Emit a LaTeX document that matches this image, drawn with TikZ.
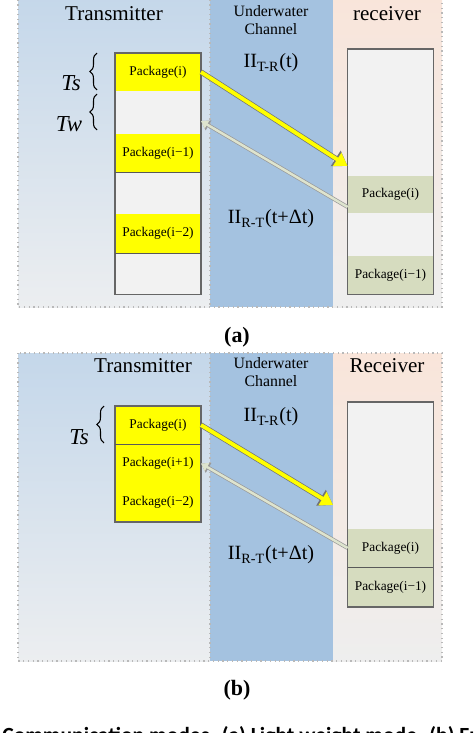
\documentclass[tikz,border=0pt]{standalone}
\usepackage{fontspec}
\setmainfont{Liberation Serif}
\newfontfamily\capfont{Carlito}
\usetikzlibrary{arrows.meta, positioning, fit, calc, decorations.pathreplacing}
\definecolor{txblue}{RGB}{196,215,234}
\definecolor{txgray}{RGB}{236,238,240}
\definecolor{chblue}{RGB}{164,194,224}
\definecolor{rxpeach}{RGB}{249,229,218}
\definecolor{rxgray}{RGB}{238,238,238}
\definecolor{slotgray}{RGB}{242,242,242}
\definecolor{pkggreen}{RGB}{214,220,191}
\definecolor{pkgyellow}{RGB}{255,255,0}
\definecolor{backgreen}{RGB}{222,228,206}

\begin{document}
\begin{tikzpicture}[x=0.02cm, y=-0.02cm,
    slot/.style={fill=slotgray, minimum width=1.72cm, inner sep=0pt, outer sep=0pt},
    pkg/.style={slot, fill=pkgyellow, font=\fontsize{7.6}{9}\selectfont},
    rpkg/.style={slot, fill=pkggreen, font=\fontsize{7.6}{9}\selectfont},
    colbox/.style={draw=gray!80!black, line width=0.6pt, inner sep=0pt},
    title/.style={font=\fontsize{12}{14}\selectfont},
    chan/.style={font=\fontsize{9}{10}\selectfont, align=center},
    flow/.style={font=\fontsize{11.5}{12}\selectfont},
    lbl/.style={font=\fontsize{13}{14}\selectfont\itshape},
    sub/.style={font=\fontsize{12.5}{14}\selectfont\bfseries},
    sep/.style={draw=gray!70!black, line width=0.5pt},
    border/.style={draw=gray!55, dotted, line width=0.7pt},
    brc/.style={decorate, decoration={brace, amplitude=4pt}, line width=0.6pt},
    fwd/.style={draw=pkgyellow, line width=2.2pt, -{Triangle[length=7pt,width=8.5pt]},
                preaction={draw=black!55, line width=3pt, -{Triangle[length=8pt,width=10pt]}}},
    bwd/.style={draw=backgreen, line width=1.4pt, -{Triangle[length=4pt,width=5pt]},
                preaction={draw=gray!80, line width=2.2pt, -{Triangle[length=5pt,width=6.2pt]}}}]

  \path[use as bounding box, clip] (0,0) rectangle (474,733);

  % ---- panel (a)
  \shade[top color=txblue, bottom color=txgray] (18,-5) rectangle (210,307);
  \fill[chblue] (210,-5) rectangle (333,307);
  \shade[top color=rxpeach, bottom color=rxgray] (333,-5) rectangle (442,307);
  \draw[border] (18,-5) rectangle (442,307) (210,-5) -- (210,307);

  \node[title] (txa) at (114,14) {Transmitter};
  \node[chan] (cha) at (271,20) {Underwater\\Channel};
  \node[title] (rxa) at (387,14) {receiver};

  \node[pkg, minimum height=0.76cm] (ta1) at (158,72) {Package(i)};
  \node[slot, minimum height=0.86cm, below=0pt of ta1] (ta2) {};
  \node[pkg, minimum height=0.76cm, below=0pt of ta2] (ta3) {Package(i−1)};
  \node[slot, minimum height=0.84cm, below=0pt of ta3] (ta4) {};
  \node[pkg, minimum height=0.78cm, below=0pt of ta4] (ta5) {Package(i−2)};
  \node[slot, minimum height=0.84cm, below=0pt of ta5] (ta6) {};
  \node[colbox, fit=(ta1)(ta6)] (tacol) {};
  \foreach \s in {ta3,ta5}
    \draw[sep] (\s.south west) -- (\s.south east);

  \node[slot, minimum height=2.54cm] (ra1) at (390.5,112.5) {};
  \node[rpkg, minimum height=0.74cm, below=0pt of ra1] (ra2) {Package(i)};
  \node[slot, minimum height=0.86cm, below=0pt of ra2] (ra3) {};
  \node[rpkg, minimum height=0.78cm, below=0pt of ra3] (ra4) {Package(i−1)};
  \node[colbox, fit=(ra1)(ra4)] (racol) {};

  % Ts / Tw
  \draw[brc] (97,90) -- (97,53);
  \node[lbl] (tsa) at (71,83) {Ts};
  \draw[brc] (97,130) -- (97,94);
  \node[lbl] (twa) at (69,124) {Tw};

  \node[flow] (fwa) at (271,63) {II\textsubscript{T-R}(t)};
  \node[flow] (bwa) at (271,219) {II\textsubscript{R-T}(t+Δt)};

  \draw[fwd] (ta1.east) -- ([yshift=0.2cm]ra1.south west);
  \draw[bwd] ([yshift=0.12cm]ra2.south west) -- ([yshift=-0.17cm]ta2.east);

  \node[sub] (capa) at (237,337) {(a)};

  % ---- panel (b)
  \shade[top color=txblue, bottom color=txgray] (18,353) rectangle (210,661);
  \fill[chblue] (210,353) rectangle (333,661);
  \shade[top color=rxpeach, bottom color=rxgray] (333,353) rectangle (442,661);
  \draw[border] (18,353) rectangle (442,661) (210,353) -- (210,661);

  \node[title] (txb) at (143,366) {Transmitter};
  \node[chan] (chb) at (271,372) {Underwater\\Channel};
  \node[title] (rxb) at (387,366) {Receiver};

  \node[pkg, minimum height=0.76cm] (tb1) at (158,425) {Package(i)};
  \node[pkg, minimum height=0.78cm, below=0pt of tb1] (tb2) {Package(i+1)};
  \node[pkg, minimum height=0.78cm, below=0pt of tb2] (tb3) {Package(i−2)};
  \node[colbox, fit=(tb1)(tb3)] (tbcol) {};
  \draw[sep] (tb1.south west) -- (tb1.south east);

  \node[slot, minimum height=2.54cm] (rb1) at (390.5,465.5) {};
  \node[rpkg, minimum height=0.76cm, below=0pt of rb1] (rb2) {Package(i)};
  \node[rpkg, minimum height=0.80cm, below=0pt of rb2] (rb3) {Package(i−1)};
  \node[colbox, fit=(rb1)(rb3)] (rbcol) {};
  \draw[sep] (rb2.south west) -- (rb2.south east);

  \draw[brc] (104,443) -- (104,406);
  \node[lbl] (tsb) at (79,437) {Ts};

  \node[flow] (fwb) at (271,417) {II\textsubscript{T-R}(t)};
  \node[flow] (bwb) at (271,555) {II\textsubscript{R-T}(t+Δt)};

  \coordinate (hitb) at (333,505);
  \draw[fwd] (tb1.east) -- (hitb);
  \draw[bwd] (rb2.west) -- (tb2.east);

  \node[sub] (capb) at (237,690) {(b)};

  % caption, cut by the page edge
  \node[font=\capfont\bfseries\fontsize{12.3}{14}\selectfont, anchor=base west, inner sep=0pt]
    (cap) at (2,742) {Communication modes. (a) Light weight mode. (b) Full weight mode.};
\end{tikzpicture}
\end{document}
